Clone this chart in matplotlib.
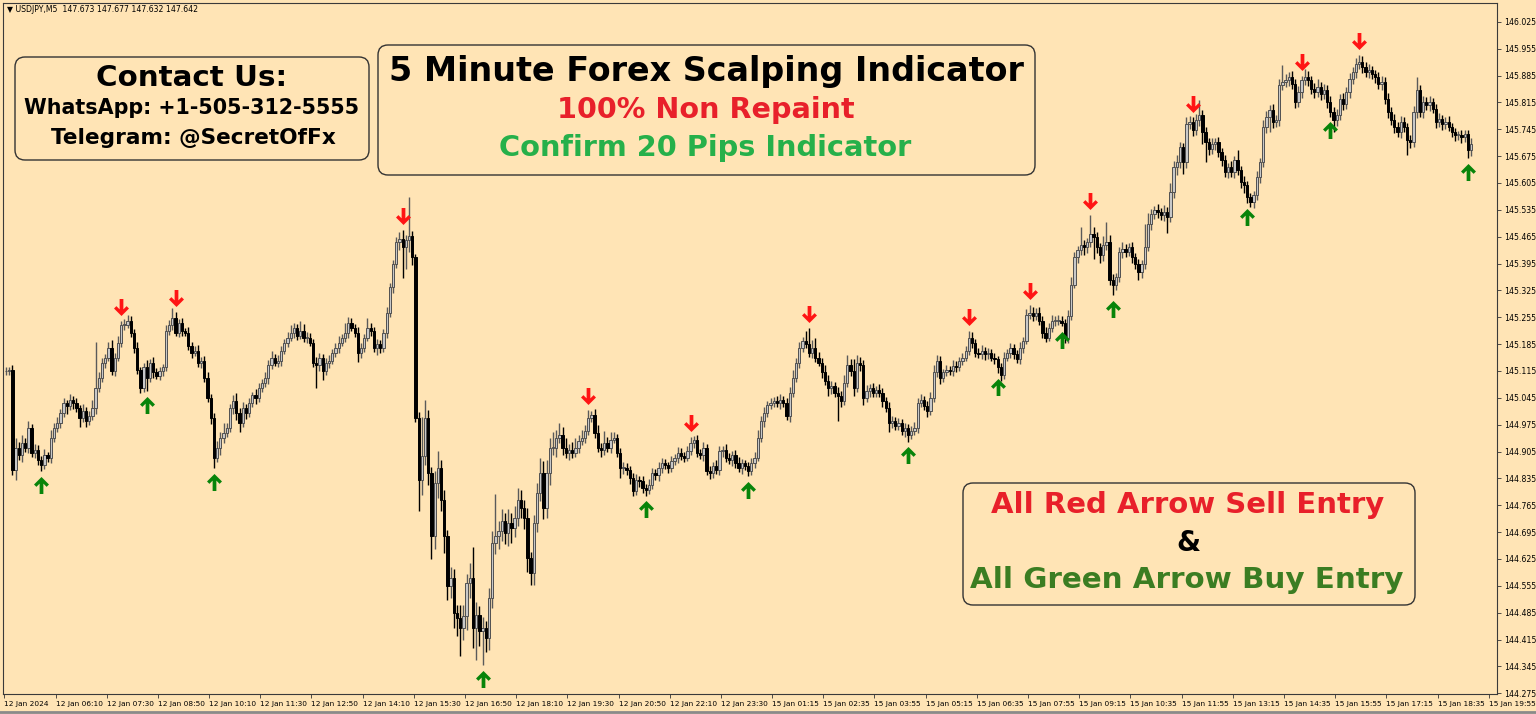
import matplotlib
matplotlib.use("Agg")
import matplotlib.pyplot as plt
import numpy as np
from matplotlib.patches import FancyBboxPatch
from matplotlib.path import Path

BG = "#FFE4B5"

# USDJPY M5 candles. Prices in thousandths above 144.000.
open_first_pts = 1114
close_pts = [
    1116, 1118, 857, 915, 897, 928, 915, 967, 902, 910, 883, 870, 897, 889, 941, 967, 980, 1006, 1032, 1024,
    1040, 1032, 1019, 993, 1011, 985, 998, 1019, 1071, 1097, 1137, 1150, 1176, 1116, 1150, 1189, 1236, 1236, 1246, 1215,
    1176, 1118, 1071, 1124, 1097, 1137, 1111, 1103, 1116, 1124, 1220, 1236, 1254, 1215, 1241, 1220, 1215, 1181, 1163, 1168,
    1137, 1142, 1097, 1045, 993, 889, 915, 941, 954, 967, 1019, 1037, 1006, 980, 1019, 1006, 1032, 1053, 1045, 1071,
    1084, 1097, 1131, 1150, 1137, 1142, 1168, 1189, 1202, 1215, 1228, 1207, 1220, 1202, 1202, 1189, 1137, 1131, 1150, 1116,
    1137, 1142, 1163, 1176, 1189, 1202, 1215, 1241, 1228, 1215, 1163, 1176, 1202, 1228, 1220, 1176, 1184, 1176, 1215, 1267,
    1333, 1393, 1450, 1458, 1437, 1455, 1468, 1411, 993, 831, 894, 993, 849, 685, 823, 862, 779, 685, 554, 575,
    484, 471, 444, 476, 562, 575, 444, 478, 437, 444, 418, 523, 667, 685, 698, 724, 693, 719, 706, 732,
    779, 758, 732, 627, 588, 719, 797, 849, 758, 849, 915, 915, 941, 949, 915, 902, 910, 902, 915, 933,
    941, 959, 993, 1001, 954, 915, 910, 928, 915, 936, 941, 902, 862, 862, 857, 836, 802, 831, 828, 810,
    805, 818, 849, 844, 862, 875, 870, 862, 881, 889, 902, 894, 889, 907, 928, 936, 902, 896, 915, 855,
    849, 868, 857, 907, 910, 889, 883, 896, 875, 862, 875, 868, 855, 875, 889, 941, 985, 1006, 1027, 1032,
    1037, 1032, 1040, 1032, 998, 1058, 1097, 1137, 1176, 1194, 1184, 1163, 1176, 1150, 1137, 1111, 1090, 1071, 1077, 1058,
    1050, 1037, 1084, 1131, 1116, 1071, 1137, 1131, 1045, 1063, 1071, 1058, 1066, 1058, 1037, 1019, 980, 985, 972, 980,
    959, 967, 949, 959, 967, 1032, 1040, 1024, 1011, 1045, 1111, 1142, 1097, 1111, 1118, 1116, 1129, 1124, 1142, 1150,
    1168, 1202, 1189, 1163, 1158, 1168, 1158, 1163, 1150, 1145, 1124, 1105, 1150, 1163, 1176, 1158, 1145, 1176, 1194, 1262,
    1267, 1259, 1267, 1246, 1215, 1202, 1228, 1246, 1246, 1246, 1241, 1202, 1259, 1340, 1411, 1429, 1442, 1437, 1450, 1471,
    1463, 1437, 1416, 1442, 1450, 1353, 1340, 1359, 1424, 1432, 1424, 1437, 1411, 1393, 1372, 1393, 1437, 1497, 1523, 1534,
    1528, 1521, 1528, 1515, 1581, 1646, 1659, 1698, 1659, 1758, 1764, 1743, 1769, 1782, 1737, 1711, 1693, 1706, 1711, 1685,
    1664, 1633, 1646, 1633, 1664, 1638, 1607, 1599, 1568, 1555, 1573, 1620, 1659, 1750, 1777, 1795, 1764, 1769, 1860, 1868,
    1873, 1881, 1863, 1816, 1842, 1873, 1881, 1873, 1850, 1842, 1855, 1837, 1847, 1816, 1790, 1769, 1782, 1824, 1811, 1842,
    1876, 1894, 1915, 1920, 1907, 1894, 1899, 1889, 1881, 1863, 1868, 1824, 1790, 1769, 1751, 1737, 1764, 1751, 1717, 1711,
    1790, 1847, 1790, 1816, 1808, 1816, 1798, 1764, 1771, 1758, 1764, 1751, 1737, 1730, 1730, 1725, 1732, 1690, 1706,
]
wick_up_pts = [
    10, 8, 12, 25, 15, 20, 12, 18, 10, 15, 12, 10, 15, 8, 20, 12, 15, 10, 12, 8,
    15, 10, 12, 8, 18, 10, 12, 20, 120, 15, 12, 10, 15, 20, 12, 18, 10, 15, 16, 12,
    10, 15, 8, 12, 20, 10, 15, 12, 8, 10, 15, 12, 26, 15, 10, 12, 8, 15, 10, 12,
    15, 10, 12, 15, 10, 12, 18, 15, 25, 12, 10, 15, 20, 12, 15, 10, 12, 8, 15, 12,
    10, 15, 12, 18, 10, 15, 12, 10, 15, 20, 12, 10, 25, 18, 15, 12, 10, 15, 12, 10,
    12, 15, 10, 12, 18, 10, 25, 15, 12, 10, 15, 12, 10, 25, 12, 10, 15, 12, 10, 15,
    12, 10, 15, 20, 25, 15, 100, 12, 10, 15, 100, 47, 20, 15, 30, 45, 20, 25, 15, 30,
    25, 20, 35, 30, 25, 40, 80, 35, 25, 30, 20, 25, 30, 110, 25, 30, 20, 35, 25, 30,
    30, 25, 20, 25, 15, 20, 25, 40, 30, 35, 25, 40, 20, 30, 20, 25, 15, 20, 25, 15,
    20, 15, 20, 10, 15, 20, 12, 30, 15, 20, 15, 10, 12, 15, 12, 10, 12, 15, 10, 12,
    10, 15, 12, 10, 15, 12, 10, 8, 12, 10, 15, 12, 10, 12, 15, 10, 12, 10, 15, 10,
    12, 10, 15, 12, 10, 15, 12, 10, 12, 15, 10, 8, 10, 12, 15, 20, 12, 15, 10, 12,
    10, 12, 15, 10, 12, 15, 20, 12, 15, 10, 25, 44, 20, 25, 15, 12, 20, 15, 12, 10,
    15, 12, 20, 25, 15, 30, 20, 15, 12, 15, 10, 12, 10, 15, 12, 10, 15, 12, 10, 12,
    10, 12, 10, 12, 15, 12, 15, 10, 12, 15, 20, 15, 12, 10, 12, 10, 15, 12, 10, 12,
    12, 18, 15, 10, 12, 15, 10, 12, 10, 12, 10, 12, 15, 10, 12, 10, 12, 15, 10, 15,
    21, 15, 12, 15, 12, 15, 12, 15, 12, 15, 12, 10, 15, 20, 15, 12, 48, 15, 12, 50,
    20, 15, 12, 25, 52, 20, 15, 12, 15, 20, 15, 12, 15, 12, 15, 12, 60, 30, 15, 12,
    15, 12, 20, 15, 25, 15, 20, 15, 12, 20, 15, 12, 15, 39, 12, 15, 12, 15, 12, 15,
    12, 15, 12, 15, 10, 26, 12, 15, 12, 10, 12, 15, 12, 20, 15, 12, 15, 12, 15, 44,
    15, 12, 15, 12, 15, 12, 21, 15, 12, 15, 20, 12, 15, 12, 15, 12, 15, 12, 15, 12,
    15, 12, 15, 19, 15, 12, 15, 12, 10, 12, 15, 12, 15, 12, 15, 12, 15, 12, 10, 12,
    15, 35, 12, 15, 12, 15, 10, 12, 15, 10, 12, 15, 10, 12, 10, 12, 10, 12, 15,
]
wick_dn_pts = [
    10, 12, 13, 25, 15, 20, 12, 15, 10, 15, 12, 15, 10, 12, 15, 10, 12, 15, 10, 20,
    12, 15, 10, 25, 12, 15, 10, 12, 15, 10, 12, 15, 10, 12, 15, 10, 12, 15, 10, 12,
    15, 12, 13, 10, 34, 12, 15, 10, 12, 15, 10, 12, 15, 10, 12, 15, 10, 12, 15, 10,
    12, 15, 10, 12, 15, 27, 12, 20, 15, 10, 12, 15, 20, 25, 12, 15, 10, 12, 15, 10,
    12, 10, 15, 12, 10, 12, 15, 10, 12, 10, 15, 12, 10, 12, 15, 10, 12, 60, 15, 25,
    12, 15, 10, 12, 15, 10, 12, 15, 10, 12, 25, 15, 12, 10, 15, 12, 20, 15, 12, 15,
    12, 15, 10, 20, 80, 57, 30, 20, 10, 80, 40, 25, 30, 60, 35, 40, 30, 45, 35, 30,
    40, 47, 73, 30, 35, 40, 50, 83, 40, 89, 35, 30, 25, 30, 35, 25, 30, 35, 40, 25,
    20, 25, 30, 35, 31, 30, 25, 20, 30, 25, 30, 20, 25, 15, 20, 15, 20, 15, 12, 15,
    12, 15, 10, 12, 15, 12, 20, 15, 12, 15, 10, 12, 25, 15, 12, 15, 12, 10, 15, 12,
    15, 12, 10, 12, 15, 12, 10, 12, 10, 12, 15, 10, 12, 10, 12, 15, 12, 10, 15, 12,
    15, 12, 10, 12, 15, 12, 10, 15, 12, 10, 15, 12, 15, 10, 12, 10, 12, 15, 10, 12,
    12, 10, 15, 12, 10, 15, 12, 10, 15, 12, 10, 12, 15, 12, 10, 15, 12, 20, 15, 12,
    65, 15, 12, 10, 15, 20, 12, 15, 20, 12, 15, 10, 12, 10, 15, 12, 25, 15, 12, 10,
    12, 15, 18, 12, 10, 15, 12, 10, 15, 12, 10, 12, 15, 12, 10, 12, 15, 12, 10, 12,
    10, 12, 15, 12, 10, 12, 15, 12, 10, 12, 15, 15, 12, 10, 15, 12, 10, 12, 15, 10,
    12, 15, 12, 10, 15, 12, 10, 12, 15, 12, 10, 13, 15, 12, 10, 15, 12, 20, 15, 12,
    57, 15, 20, 15, 12, 15, 28, 15, 12, 15, 12, 10, 15, 12, 20, 15, 12, 10, 15, 12,
    15, 12, 15, 40, 12, 15, 20, 15, 30, 15, 12, 15, 12, 15, 30, 52, 15, 12, 15, 12,
    15, 12, 15, 12, 15, 12, 15, 20, 15, 12, 15, 12, 15, 12, 15, 40, 15, 12, 15, 12,
    12, 15, 12, 15, 12, 15, 12, 15, 12, 15, 12, 15, 12, 15, 12, 32, 15, 12, 15, 12,
    15, 12, 15, 12, 15, 12, 15, 12, 15, 12, 15, 12, 15, 12, 15, 12, 15, 12, 40, 15,
    12, 15, 12, 15, 12, 15, 12, 15, 12, 15, 12, 10, 12, 15, 12, 15, 12, 20, 15,
]
sell_bars = [36, 53, 124, 182, 214, 251, 301, 320, 339, 371, 405, 423]
buy_bars = [11, 44, 65, 149, 200, 232, 282, 310, 330, 346, 388, 414, 457]

price_ticks = [144.275, 144.345, 144.415, 144.485, 144.555, 144.625, 144.695, 144.765, 144.835,
               144.905, 144.975, 145.045, 145.115, 145.185, 145.255, 145.325, 145.395, 145.465,
               145.535, 145.605, 145.675, 145.745, 145.815, 145.885, 145.955, 146.025]
time_labels = ["12 Jan 2024", "12 Jan 06:10", "12 Jan 07:30", "12 Jan 08:50", "12 Jan 10:10",
               "12 Jan 11:30", "12 Jan 12:50", "12 Jan 14:10", "12 Jan 15:30", "12 Jan 16:50",
               "12 Jan 18:10", "12 Jan 19:30", "12 Jan 20:50", "12 Jan 22:10", "12 Jan 23:30",
               "15 Jan 01:15", "15 Jan 02:35", "15 Jan 03:55", "15 Jan 05:15", "15 Jan 06:35",
               "15 Jan 07:55", "15 Jan 09:15", "15 Jan 10:35", "15 Jan 11:55", "15 Jan 13:15",
               "15 Jan 14:35", "15 Jan 15:55", "15 Jan 17:15", "15 Jan 18:35", "15 Jan 19:55"]
bars_per_label = 16

assert len(close_pts) == len(wick_up_pts) == len(wick_dn_pts), (len(close_pts), len(wick_up_pts), len(wick_dn_pts))

close = 144.0 + np.array(close_pts) / 1000.0
opens = np.concatenate([[144.0 + open_first_pts / 1000.0], close[:-1]])
top = np.maximum(opens, close)
bot = np.minimum(opens, close)
high = top + np.array(wick_up_pts) / 1000.0
low = bot - np.array(wick_dn_pts) / 1000.0
x = np.arange(len(close))
up = close >= opens

fig = plt.figure(figsize=(15.36, 7.14), dpi=100)
fig.patch.set_facecolor(BG)
W, H = 1536, 714
ax = fig.add_axes([3 / W, 1 - 694 / H, (1497 - 3) / W, (694 - 3) / H])
ax.set_facecolor(BG)

ax.vlines(x[up], low[up], high[up], color="#5a5a5a", lw=1.0, zorder=2)
ax.vlines(x[~up], low[~up], high[~up], color="black", lw=1.0, zorder=2)
hgt = np.maximum(top - bot, 0.0015)
ax.bar(x[up], hgt[up], bottom=bot[up], width=0.72, color="#c8c8c8", edgecolor="#505050", linewidth=0.7, zorder=3)
ax.bar(x[~up], hgt[~up], bottom=bot[~up], width=0.72, color="black", edgecolor="black", linewidth=0.7, zorder=3)

down_arrow = Path([(-0.22, 1.0), (0.22, 1.0), (0.22, -0.22), (0.6, 0.16), (0.88, -0.12), (0.0, -1.0),
                   (-0.88, -0.12), (-0.6, 0.16), (-0.22, -0.22), (-0.22, 1.0)], closed=True)
up_arrow = Path(down_arrow.vertices * np.array([1.0, -1.0]), down_arrow.codes)
ax.scatter(sell_bars, high[sell_bars] + 0.036, marker=down_arrow, s=150, color="#ff1414", linewidths=0, zorder=5)
ax.scatter(buy_bars, low[buy_bars] - 0.036, marker=up_arrow, s=150, color="#08840a", linewidths=0, zorder=5)

ax.set_xlim(-0.94, 466.1)
ax.set_ylim(144.273, 146.074)
ax.yaxis.tick_right()
ax.set_yticks(price_ticks)
ax.set_yticklabels([f"{p:.3f}" for p in price_ticks])
ax.set_xticks([bars_per_label * k - 0.5 for k in range(len(time_labels))])
ax.set_xticklabels(time_labels, ha="left")
ax.tick_params(axis="both", length=3, width=0.6, color="#333333", labelcolor="black")
ax.tick_params(axis="y", pad=2, labelsize=5.6)
ax.tick_params(axis="x", pad=2, labelsize=5.3)
for sp in ax.spines.values():
    sp.set_color("#3a3a3a")
    sp.set_linewidth(0.8)

# overlay in pixel coordinates for the banner boxes
ov = fig.add_axes([0, 0, 1, 1], facecolor="none")
ov.set_xlim(0, W)
ov.set_ylim(H, 0)
ov.axis("off")

ov.text(7, 9, "\u25bc USDJPY,M5  147.673 147.677 147.632 147.642", fontsize=5.6, va="center", ha="left")
ov.plot([0, W], [712, 712], color="#8a8a8a", lw=2.0)


def box(x0, y0, x1, y1, r=10):
    ov.add_patch(FancyBboxPatch((x0 + r, y0 + r), x1 - x0 - 2 * r, y1 - y0 - 2 * r,
                                boxstyle=f"round,pad={r}", facecolor=BG, edgecolor="#333333", lw=1.0, zorder=4))


renderer = fig.canvas.get_renderer()


def fit_text(xc, yc, s, width, color):
    t = ov.text(xc, yc, s, ha="center", va="center", fontsize=20, fontweight="bold", color=color, zorder=5)
    w = t.get_window_extent(renderer).width
    t.set_fontsize(20 * width / w)


box(15, 57, 369, 160)
fit_text(192, 78, "Contact Us:", 191, "black")
fit_text(192, 108, "WhatsApp: +1-505-312-5555", 337, "black")
fit_text(193, 138, "Telegram: @SecretOfFx", 286, "black")

box(378, 45, 1035, 175)
fit_text(706, 71, "5 Minute Forex Scalping Indicator", 637, "black")
fit_text(706, 110, "100% Non Repaint", 297, "#e8202a")
fit_text(705, 148, "Confirm 20 Pips Indicator", 415, "#26b04a")

box(963, 483, 1415, 605)
fit_text(1188, 505, "All Red Arrow Sell Entry", 393, "#e8202a")
fit_text(1188, 543, "&", 24, "black")
fit_text(1187, 580, "All Green Arrow Buy Entry", 433, "#3b7d22")

fig.savefig("out.png", dpi=100, facecolor=BG)
